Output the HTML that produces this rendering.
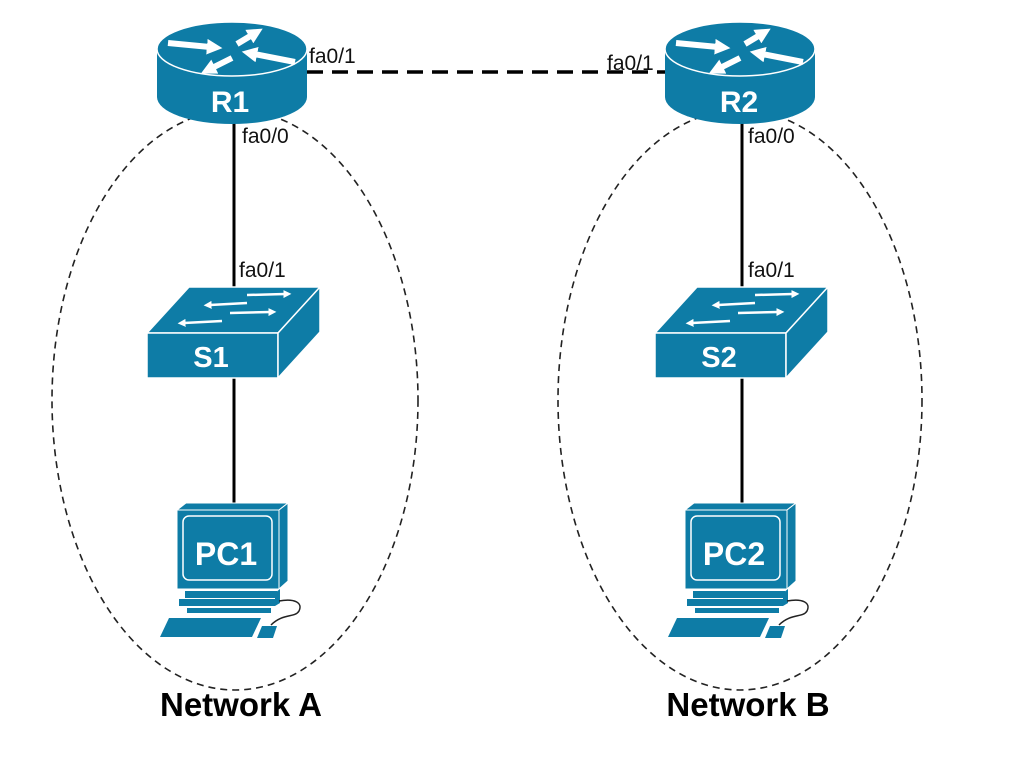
<!DOCTYPE html>
<html><head><meta charset="utf-8"><style>
html,body{margin:0;padding:0;background:#fff;}
svg{display:block;}
text{font-family:"Liberation Sans",sans-serif;}
</style></head><body>
<svg width="1024" height="783" viewBox="0 0 1024 783" xmlns="http://www.w3.org/2000/svg">
<defs>
<marker id="ah" viewBox="0 0 10 10" refX="2" refY="5" markerWidth="2.6" markerHeight="2.6" orient="auto" markerUnits="strokeWidth">
  <path d="M0,0 L10,5 L0,10 Z" fill="#fff"/>
</marker>
<marker id="sh" viewBox="0 0 10 10" refX="2" refY="5" markerWidth="3.2" markerHeight="3.2" orient="auto" markerUnits="strokeWidth">
  <path d="M0,0 L10,5 L0,10 Z" fill="#fff"/>
</marker>
<g id="router">
  <path d="M-75,0 L-75,48 A75,27 0 0 0 75,48 L75,0 Z" fill="#0e7ca6"/>
  <ellipse cx="0" cy="0" rx="75" ry="27" fill="#0e7ca6" stroke="#fff" stroke-width="1.5"/>
  <g stroke="#fff" stroke-width="6" fill="none" marker-end="url(#ah)">
    <line x1="-64" y1="-6" x2="-22" y2="-2"/>
    <line x1="5" y1="-5" x2="20" y2="-14"/>
    <line x1="63" y1="13" x2="22" y2="5"/>
    <line x1="0" y1="9" x2="-20" y2="19"/>
  </g>
</g>
<g id="switch">
  <polygon points="-87,0 -45,-46 86,-46 44,0" fill="#0e7ca6" stroke="#fff" stroke-width="1.5"/>
  <rect x="-87" y="0" width="131" height="45" fill="#0e7ca6" stroke="#fff" stroke-width="1.5"/>
  <polygon points="44,0 86,-46 86,-1 44,45" fill="#0e7ca6" stroke="#fff" stroke-width="1.5"/>
  <g stroke="#fff" stroke-width="2.5" fill="none" marker-end="url(#sh)">
    <line x1="13" y1="-38" x2="51" y2="-39"/>
    <line x1="13" y1="-30" x2="-24" y2="-28"/>
    <line x1="-4" y1="-20" x2="36" y2="-21"/>
    <line x1="-12" y1="-12" x2="-50" y2="-10"/>
  </g>
</g>
<g id="pc">
  <polygon points="0,7 9,0 111,0 102,7" fill="#0e7ca6" stroke="#fff" stroke-width="1"/>
  <polygon points="102,7 111,0 111,78 102,86" fill="#0e7ca6" stroke="#fff" stroke-width="1"/>
  <rect x="0" y="7" width="102" height="79" fill="#0e7ca6" stroke="#fff" stroke-width="1"/>
  <rect x="6" y="13" width="89" height="64" rx="6" fill="#0e7ca6" stroke="#fff" stroke-width="1.5"/>
  <rect x="8" y="88" width="92" height="7" fill="#0e7ca6"/>
  <rect x="2" y="96" width="96" height="7" fill="#0e7ca6"/>
  <rect x="10" y="105" width="84" height="5" fill="#0e7ca6"/>
  <polygon points="98,90 103,86 103,100 98,103" fill="#0e7ca6"/>
  <polygon points="-17,134 -8,115 84,115 75,134" fill="#0e7ca6"/>
  <polygon points="80,135 85,123 100,123 96,135" fill="#0e7ca6"/>
  <path d="M102,98 C118,95 126,100 122,108 C118,115 106,110 94,122" fill="none" stroke="#222" stroke-width="1.5"/>
</g>
</defs>

<ellipse cx="235" cy="400" rx="183" ry="290" fill="none" stroke="#222" stroke-width="1.6" stroke-dasharray="7,5"/>
<ellipse cx="740" cy="400" rx="182" ry="290" fill="none" stroke="#222" stroke-width="1.6" stroke-dasharray="7,5"/>

<line x1="307" y1="72" x2="665" y2="72" stroke="#000" stroke-width="3.5" stroke-dasharray="16,9"/>
<line x1="234" y1="120" x2="234" y2="290" stroke="#000" stroke-width="3"/>
<line x1="234" y1="378" x2="234" y2="506" stroke="#000" stroke-width="3"/>
<line x1="742" y1="120" x2="742" y2="290" stroke="#000" stroke-width="3"/>
<line x1="742" y1="378" x2="742" y2="506" stroke="#000" stroke-width="3"/>

<use href="#router" x="232" y="49"/>
<use href="#router" x="740" y="49"/>
<use href="#switch" x="234" y="333"/>
<use href="#switch" x="742" y="333"/>
<use href="#pc" x="177" y="503"/>
<use href="#pc" x="685" y="503"/>

<g fill="#fff" font-weight="bold" text-anchor="middle">
  <text x="230" y="112" font-size="30">R1</text>
  <text x="739" y="112" font-size="30">R2</text>
  <text x="211" y="367" font-size="29">S1</text>
  <text x="719" y="367" font-size="29">S2</text>
  <text x="226" y="565" font-size="32">PC1</text>
  <text x="734" y="565" font-size="32">PC2</text>
</g>

<g fill="#111" font-size="21">
  <text x="309" y="63">fa0/1</text>
  <text x="607" y="70">fa0/1</text>
  <text x="242" y="143">fa0/0</text>
  <text x="748" y="143">fa0/0</text>
  <text x="239" y="277">fa0/1</text>
  <text x="748" y="277">fa0/1</text>
</g>

<g fill="#000" font-weight="bold" font-size="33" text-anchor="middle">
  <text x="241" y="716">Network A</text>
  <text x="748" y="716">Network B</text>
</g>
</svg>
</body></html>
